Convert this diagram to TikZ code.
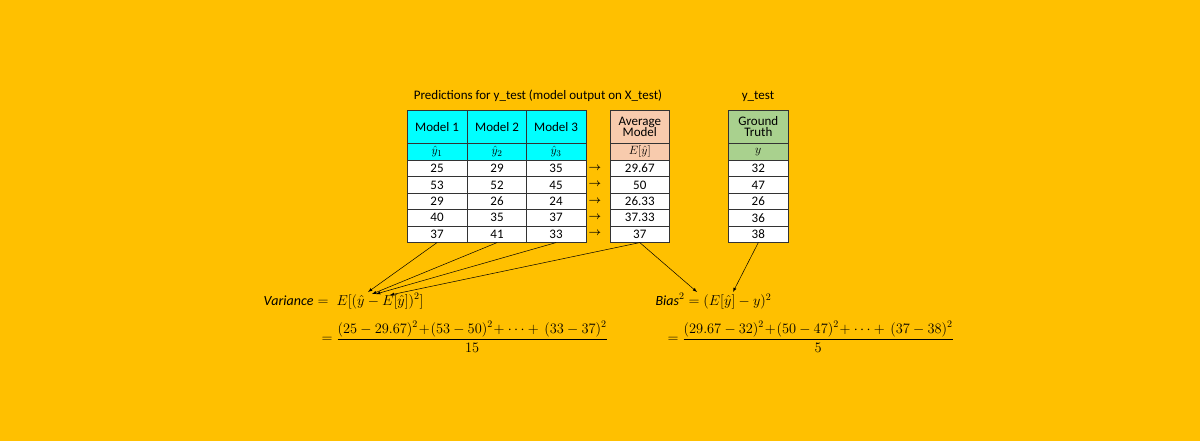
\documentclass[tikz,border=0pt]{standalone}
\usepackage{amsmath}
\usepackage{fontspec}
\setmainfont{Carlito}
\definecolor{bg}{HTML}{FFC000}
\definecolor{cy}{HTML}{00FFFF}
\definecolor{pe}{HTML}{F8CBAD}
\definecolor{gr}{HTML}{A9D18E}
\begin{document}
\begin{tikzpicture}[x=1pt,y=-1pt,
  cell/.style={draw=black!80,line width=0.6pt,minimum height=16.4pt,inner sep=0pt,anchor=north west,font=\fontsize{13}{14}\selectfont},
  eq/.style={anchor=west,font=\fontsize{14}{16}\selectfont},
  arr/.style={-latex,line width=0.5pt}]
\fill[bg] (0,0) rectangle (1200,441);
\useasboundingbox (0,0) rectangle (1200,441);
\node[font=\fontsize{13}{14}\selectfont] (title) at (538,96) {Predictions for y\_test (model output on X\_test)};
\node[font=\fontsize{13}{14}\selectfont] (yt) at (758,96) {y\_test};
% headers
\foreach \i/\x in {1/407,2/467,3/526}{
  \node[cell,fill=cy,minimum width=59.5pt,minimum height=33pt] (h\i) at (\x,110) {Model \i};
  \node[cell,fill=cy,minimum width=59.5pt,minimum height=17pt] (s\i) at (\x,143) {$\hat y_{\i}$};
}
\node[cell,fill=pe,minimum width=59pt,minimum height=33pt,align=center] (ha) at (610,110) {Average\\[-3pt]Model};
\node[cell,fill=pe,minimum width=59pt,minimum height=17pt] (sa) at (610,143) {$E[\hat y]$};
\node[cell,fill=gr,minimum width=60pt,minimum height=33pt,align=center] (hg) at (728,110) {Ground\\[-3pt]Truth};
\node[cell,fill=gr,minimum width=60pt,minimum height=17pt] (sg) at (728,143) {$y$};
\foreach \r/\a/\b/\c/\m/\g [count=\k] in {0/25/29/35/29.67/32,1/53/52/45/50/47,2/29/26/24/26.33/26,3/40/35/37/37.33/36,4/37/41/33/37/38}{
  \pgfmathsetmacro{\yy}{160+16.4*\r}
  \node[cell,fill=white,minimum width=59.5pt] (a\k) at (407,\yy) {\a};
  \node[cell,fill=white,minimum width=59.5pt] (b\k) at (467,\yy) {\b};
  \node[cell,fill=white,minimum width=59.5pt] (c\k) at (526,\yy) {\c};
  \node[cell,fill=white,minimum width=59pt] (m\k) at (610,\yy) {\m};
  \node[cell,fill=white,minimum width=60pt] (g\k) at (728,\yy) {\g};
  \node[font=\fontsize{11}{12}\selectfont] (ar\k) at (595,\yy+8.2) {$\boldsymbol{\rightarrow}$};
}
% equations
\node[eq] (var) at (260,301) {$\mathit{Variance} = \;E[(\hat y - E[\hat y])^2]$};
\node[eq] (varf) at (318,337) {$=\dfrac{(25-29.67)^2\!+\!(53-50)^2\!+\cdots+\,(33-37)^2}{15}$};
\node[eq] (bias) at (652,301) {$\mathit{Bias}^2 = (E[\hat y]-y)^2$};
\node[eq] (biasf) at (664,337) {$=\dfrac{(29.67-32)^2\!+\!(50-47)^2\!+\cdots+\,(37-38)^2}{5}$};
\coordinate (e1) at (368,292);
\coordinate (e2) at (372,294);
\coordinate (e3) at (376,294);
\coordinate (e4) at (390,295);
\coordinate (e5) at (697,292);
\coordinate (e6) at (733,292);
\draw[arr] (a5.south) -- (e1);
\draw[arr] (b5.south) -- (e2);
\draw[arr] (c5.south) -- (e3);
\draw[arr] (m5.south) -- (e4);
\draw[arr] (m5.south) -- (e5);
\draw[arr] (g5.south) -- (e6);
\end{tikzpicture}
\end{document}
